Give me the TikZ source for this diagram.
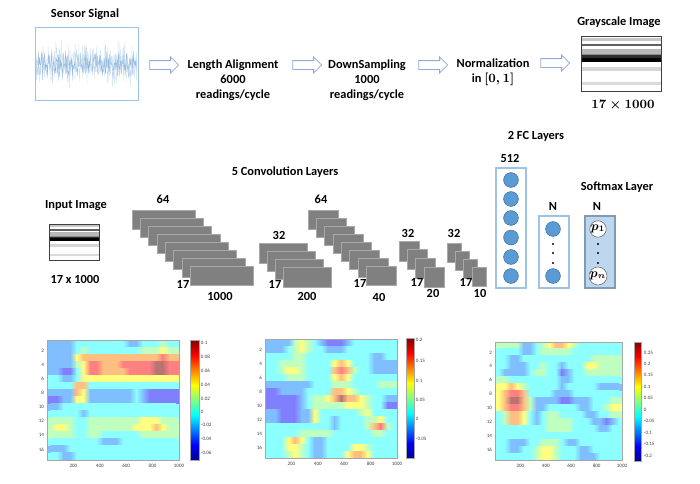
\documentclass[tikz,border=0pt]{standalone}
\usepackage{fontspec}
\setmainfont{Carlito}
\usetikzlibrary{shapes.arrows}

\definecolor{jet0}{rgb}{0,0,.56}
\definecolor{jet1}{rgb}{0,0,1}
\definecolor{jet2}{rgb}{0,.5,1}
\definecolor{jet3}{rgb}{0,1,1}
\definecolor{jet4}{rgb}{.5,1,.5}
\definecolor{jet5}{rgb}{1,1,0}
\definecolor{jet6}{rgb}{1,.5,0}
\definecolor{jet7}{rgb}{1,0,0}
\definecolor{jet8}{rgb}{.5,0,0}
\colorlet{hm0}{jet0!50!white}
\colorlet{hm1}{jet1!50!white}
\colorlet{hm2}{jet2!50!white}
\colorlet{hm3}{jet3!45!white}
\colorlet{hm4}{jet4!50!white}
\colorlet{hm5}{jet5!50!white}
\colorlet{hm6}{jet6!50!white}
\colorlet{hm7}{jet7!50!white}
\colorlet{hm8}{jet8!55!white}
\definecolor{arrowc}{RGB}{143,170,220}
\definecolor{sigc}{RGB}{120,170,215}
\definecolor{boxc}{RGB}{157,195,230}
\definecolor{softc}{RGB}{189,215,238}
\definecolor{unitc}{RGB}{91,155,213}
\definecolor{unitd}{RGB}{65,113,156}
\definecolor{mapc}{RGB}{128,128,128}
\definecolor{mapd}{RGB}{168,168,168}

\pgfdeclareverticalshading{jetbar}{100bp}{color(0bp)=(jet0); color(25bp)=(jet0);
  color(31.25bp)=(jet1); color(37.5bp)=(jet2); color(43.75bp)=(jet3); color(50bp)=(jet4);
  color(56.25bp)=(jet5); color(62.5bp)=(jet6); color(68.75bp)=(jet7); color(75bp)=(jet8);
  color(100bp)=(jet8)}

\tikzset{
  lbl/.style={font=\bfseries\boldmath\fontsize{8.8}{10.7}\selectfont, inner sep=1pt},
  hollow/.style={single arrow, draw=arrowc, fill=white, line width=.6pt, inner xsep=0pt,
    inner ysep=.1cm, minimum height=.72cm, single arrow head extend=.09cm},
  fmap/.style={fill=mapc, draw=mapd, line width=.4pt},
  unit/.style={circle, fill=unitc, draw=unitd, line width=.4pt, minimum size=.37cm, inner sep=0pt},
  prob/.style={circle, fill=white, draw=black!60, line width=.4pt, minimum size=.35cm, inner sep=0pt,
    font=\bfseries\boldmath\fontsize{8.8}{10}\selectfont},
  tick/.style={font=\fontsize{3.6}{4}\selectfont, text=black!75, inner sep=.5pt}
}

% grey 17 x 1000 image: x0, y0, x1, y1
\newcommand{\grayimg}[4]{%
  \foreach \lo/\hi/\tone in {.035/.09/black!22, .14/.19/black!62, .23/.32/black!28,
      .32/.35/black!45, .35/.40/black!82, .40/.47/black, .56/.63/black!16, .84/.89/black!14}
    \fill[\tone] (#1,{#2+(#4-#2)*\lo}) rectangle (#3,{#2+(#4-#2)*\hi});
  \draw[black!75, line width=.6pt] (#1,#2) rectangle (#3,#4);
}

% heat map: x0, y0, width, height, rows of 20 values (blended along each row)
\newcommand{\heatmap}[5]{%
  \begin{scope}
  \clip (#1,#2) rectangle ++(#3,#4);
  \foreach \vals [count=\row] in {#5} {
    \foreach \v [count=\col, remember=\v as \prev (initially 3)] in \vals {
      \ifnum\col=1
        \fill[hm\v] ({#1-1},{#2+(\row-1)*#4/17}) rectangle ({#1+.5*#3/20+.3},{#2+\row*#4/17+.4});
      \else
        \shade[left color=hm\prev, right color=hm\v] ({#1+(\col-1.5)*#3/20},{#2+(\row-1)*#4/17})
          rectangle ({#1+(\col-.5)*#3/20+.3},{#2+\row*#4/17+.4});
      \fi
      \ifnum\col=20
        \fill[hm\v] ({#1+19.5*#3/20},{#2+(\row-1)*#4/17}) rectangle ({#1+#3+1},{#2+\row*#4/17+.4});
      \fi
    }
  }
  \end{scope}
  \draw[black!35, line width=.3pt] (#1,#2) rectangle ++(#3,#4);
  \foreach \k in {2,4,...,16}
    \node[tick, anchor=east] at ({#1-2},{#2+(\k-.5)*#4/17}) {\k};
  \foreach \t in {200,400,...,1000}
    \node[tick] at ({#1+\t/1000*#3},{#2+#4+6}) {\t};
}

% colour bar: x0, y0, x1, y1
\newcommand{\cbar}[4]{%
  \shade[shading=jetbar] (#1,#2) rectangle (#3,#4);
  \draw[black!35, line width=.3pt] (#1,#2) rectangle (#3,#4);
}

\begin{document}
\begin{tikzpicture}[x=.025cm, y=-.025cm]
\useasboundingbox (0,0) rectangle (700,483);

% pre-processing
\node[lbl] (sig) at (85,14) {Sensor Signal};
\pgfmathsetseed{11}
\begin{scope}
\clip (35,27) rectangle (138,100);
\draw[sigc!40, line width=.25pt] plot[domain=36:137, samples=300] (\x,{65+10*(rand+rand+rand)});
\draw[sigc!80, line width=.2pt] plot[domain=36:137, samples=220] (\x,{65+7.5*(rand+rand+rand)});
\end{scope}
\draw[boxc, line width=.6pt] (35,27) rectangle (138,100);

\node[hollow] (a1) at (162,65) {};
\node[lbl, align=center] (len) at (233,80) {Length Alignment\\6000\\readings/cycle};
\node[hollow] (a2) at (305,65) {};
\node[lbl, align=center] (down) at (367,80) {DownSampling\\1000\\readings/cycle};
\node[hollow] (a3) at (431,65) {};
\node[lbl, align=center] (norm) at (493,72) {Normalization\\in $[0,1]$};
\node[hollow] (a4) at (553,63) {};
\node[lbl] (gray) at (619,22) {Grayscale Image};
\grayimg{581}{36}{661}{91}
\node[lbl] (gsize) at (623,105) {$17\times1000$};

% network
\node[lbl] (inp) at (76,206) {Input Image};
\grayimg{49}{224}{99}{260}
\node[lbl] (isize) at (75,279) {17 x 1000};
\node[lbl] (conv) at (285,172) {5 Convolution Layers};

\foreach \i in {0,...,7} \draw[fmap] ({132+8.3*\i},{210+8.1*\i}) rectangle +(63,19);
\node[lbl] at (163,199) {64};
\node[lbl] at (183,284) {17};
\node[lbl] at (220,296) {1000};

\foreach \i in {0,...,3} \draw[fmap] ({259+8*\i},{243+8*\i}) rectangle +(48,20);
\node[lbl] at (279,235) {32};
\node[lbl] at (275,284) {17};
\node[lbl] at (307,296) {200};

\foreach \i in {0,...,7} \draw[fmap] ({308+8.3*\i},{210+8.1*\i}) rectangle +(30,19);
\node[lbl] at (321,199) {64};
\node[lbl] at (360,283) {17};
\node[lbl] at (379,297) {40};

\foreach \i in {0,...,3} \draw[fmap] ({399+8.3*\i},{241+8.7*\i}) rectangle +(20,20);
\node[lbl] at (408,233) {32};
\node[lbl] at (417,282) {17};
\node[lbl] at (433,293) {20};

\foreach \i in {0,...,3} \draw[fmap] ({447+8.3*\i},{243+8*\i}) rectangle +(14,19);
\node[lbl] at (454,233) {32};
\node[lbl] at (466,282) {17};
\node[lbl] at (480,293) {10};

\node[lbl] (fc) at (536,136) {2 FC Layers};
\node[lbl] at (510,158) {512};
\draw[boxc, line width=.8pt] (496,168) rectangle (526,288);
\foreach \y [count=\k] in {180,199,218,237.5,257,276} \node[unit] (f\k) at (511,\y) {};

\node[lbl] at (553,206) {N};
\draw[boxc, line width=.8pt] (539,216) rectangle (569,288);
\node[unit] (g1) at (553,229) {};
\node[unit] (g2) at (553,276) {};
\foreach \y in {244,253,263} \fill (553,\y) circle (1.1);

\node[lbl] (soft) at (617,187) {Softmax Layer};
\node[lbl] at (597,206) {N};
\draw[boxc!80!black, fill=softc, line width=.8pt] (585,216) rectangle (615,288);
\node[prob] (p1) at (598,229) {$p_1$};
\node[prob] (pn) at (598,276) {$p_n$};
\foreach \y in {244,253,263} \fill (598,\y) circle (1.1);

% heat maps
\heatmap{47}{340}{132}{120}{
 {2,2,2,2,3,3,3,3,3,3,3,3,2,2,3,3,3,4,3,3},
 {2,2,2,2,3,4,3,3,3,3,3,3,3,3,4,4,4,5,4,4},
 {2,2,2,2,5,6,6,6,6,6,6,6,6,6,6,6,6,7,6,6},
 {2,2,2,2,4,5,7,7,6,6,6,7,7,7,7,7,8,8,7,7},
 {2,2,1,1,3,5,7,7,6,6,6,6,7,7,7,7,8,8,7,7},
 {3,3,2,2,3,5,5,5,5,5,5,5,5,5,5,5,5,5,5,5},
 {3,3,3,3,6,6,3,3,3,3,3,3,3,3,3,3,3,3,3,3},
 {2,2,2,2,6,5,2,2,2,2,2,2,2,3,2,1,1,1,1,1},
 {1,1,2,2,5,5,2,2,2,2,2,2,2,3,2,1,1,1,1,1},
 {2,2,3,3,3,3,3,3,3,3,3,3,3,3,3,3,3,3,3,3},
 {3,3,3,3,3,2,3,3,3,3,3,3,3,3,3,3,3,3,3,3},
 {4,4,4,4,3,3,4,4,4,4,4,4,4,4,5,5,5,4,4,4},
 {4,5,5,4,3,3,4,4,4,4,4,4,4,5,5,5,6,5,4,4},
 {4,4,4,4,3,3,4,4,3,3,3,3,3,3,4,4,4,4,4,4},
 {3,3,3,3,3,3,3,3,2,2,2,3,3,3,3,3,3,3,3,3},
 {2,2,2,3,3,3,3,3,3,3,3,3,3,3,3,3,3,3,3,3},
 {3,3,2,2,3,3,3,3,3,3,3,3,3,3,3,3,3,3,3,3}}
\cbar{190}{340}{199}{460}
\foreach \y/\t in {343/0.1,357/0.08,371/0.06,385/0.04,399/0.02,412/0,425/-0.02,439/-0.04,453/-0.06}
  \node[tick, anchor=west] at (200,\y) {\t};

\heatmap{265}{339}{132}{119}{
 {2,2,2,2,4,5,4,3,2,1,1,1,2,3,3,3,3,3,3,3},
 {2,2,2,3,4,5,4,3,3,2,2,2,3,3,3,3,3,3,3,3},
 {3,3,3,3,4,4,3,3,3,3,3,3,3,3,3,3,2,2,3,3},
 {3,3,4,4,4,4,3,3,3,3,5,6,5,3,3,3,2,2,2,2},
 {3,3,4,5,5,4,3,3,3,3,6,7,6,4,3,3,2,2,2,2},
 {3,3,3,4,4,4,3,3,3,3,5,6,5,3,3,3,3,3,3,3},
 {2,2,2,2,2,2,2,3,3,3,4,4,4,3,3,3,3,4,4,4},
 {1,1,2,2,2,2,3,3,3,3,6,6,5,4,3,3,3,3,3,3},
 {1,1,1,1,1,2,3,4,4,5,6,8,6,6,5,4,3,3,2,2},
 {1,1,1,1,1,2,3,4,4,4,4,4,5,5,5,4,3,3,1,1},
 {2,2,1,1,1,2,2,5,3,3,3,3,3,3,4,5,3,3,3,3},
 {2,2,1,1,1,2,2,5,3,3,2,3,3,3,3,4,4,5,3,3},
 {3,3,3,3,3,3,3,3,3,3,2,3,3,3,3,4,6,7,4,3},
 {3,3,3,3,3,4,4,4,4,4,3,3,3,3,3,3,4,4,3,3},
 {3,3,3,5,6,5,3,2,2,3,3,3,3,3,3,3,3,3,3,3},
 {3,3,3,5,5,4,3,2,2,3,3,3,3,5,5,4,3,3,3,3},
 {3,3,3,4,5,4,3,2,2,3,3,3,5,6,6,5,3,3,3,3}}
\cbar{406}{338}{414}{458}
\foreach \y/\t in {340/0.2,361/0.15,381/0.1,400/0.05,419/0,439/-0.05}
  \node[tick, anchor=west] at (415,\y) {\t};

\heatmap{495}{342}{127}{118}{
 {4,4,4,4,2,2,3,4,5,6,6,5,4,3,3,3,3,3,3,3},
 {3,3,3,3,2,2,3,4,4,4,4,4,3,3,3,3,3,3,3,3},
 {3,3,2,2,3,3,3,3,3,3,3,3,3,3,3,4,4,4,4,4},
 {3,3,2,2,2,3,3,4,3,3,2,3,3,3,5,5,4,4,4,4},
 {3,2,2,2,2,3,4,4,3,3,1,2,3,3,4,4,4,4,4,4},
 {4,4,3,3,3,3,3,3,3,3,2,2,3,3,3,3,3,3,3,3},
 {5,5,6,5,4,3,3,3,3,3,2,3,3,3,3,3,2,2,2,2},
 {5,6,7,7,6,3,3,3,3,2,2,2,3,3,3,3,3,3,3,3},
 {5,6,8,8,6,4,2,2,2,2,1,1,2,2,2,3,3,3,4,4},
 {5,6,7,7,6,4,2,2,3,3,3,3,3,2,2,3,3,4,5,5},
 {3,4,6,6,5,3,2,3,4,4,3,3,3,3,2,2,3,3,4,4},
 {3,4,6,6,5,3,2,3,4,4,4,4,3,3,3,2,2,1,2,3},
 {3,3,3,3,3,3,3,3,4,4,4,4,3,3,3,3,2,2,3,3},
 {3,3,3,3,3,3,3,3,3,3,3,3,3,3,3,3,3,3,3,3},
 {3,3,2,2,2,3,3,4,4,4,3,2,2,3,3,3,3,3,3,3},
 {3,3,2,2,3,3,4,5,5,4,3,3,3,2,2,3,3,3,3,3},
 {3,3,3,3,3,3,4,5,5,4,3,3,3,2,2,2,3,3,3,3}}
\cbar{634}{342}{641}{461}
\foreach \y/\t in {353/0.25,364/0.2,375/0.15,387/0.1,398/0.05,410/0,421/-0.05,433/-0.1,444/-0.15,456/-0.2}
  \node[tick, anchor=west] at (643,\y) {\t};

\end{tikzpicture}
\end{document}
